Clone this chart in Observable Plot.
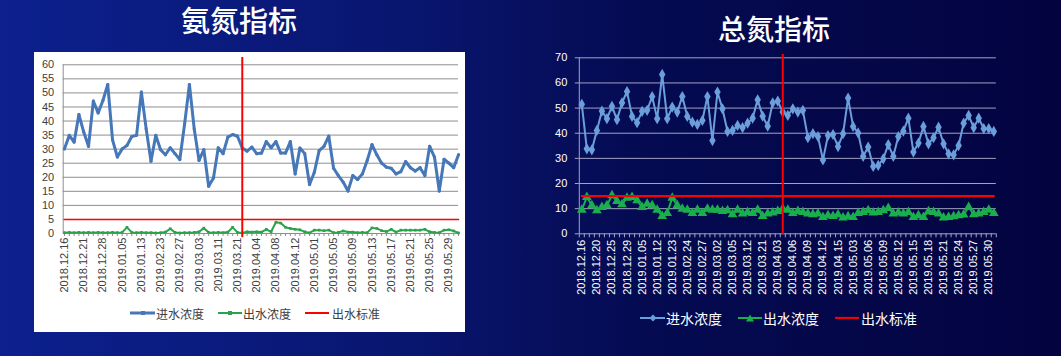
<!DOCTYPE html>
<html>
<head>
<meta charset="utf-8">
<script src="https://cdn.jsdelivr.net/npm/d3@7"></script>
<script src="https://cdn.jsdelivr.net/npm/@observablehq/plot@0.6"></script>
<style>
html, body { margin: 0; padding: 0; }
body {
  width: 1061px; height: 356px; overflow: hidden; position: relative;
  background: linear-gradient(to right, #0c208e 0%, #091670 38%, #050b52 60%, #030340 100%);
  font-family: "Liberation Sans", Arial, sans-serif;
}
.title { position: absolute; color: #fff; font-family: "Noto Sans CJK SC", sans-serif; font-weight: 500;
  white-space: nowrap; width: 200px; margin-left: -100px; text-align: center; line-height: 1.2; }
#panel { position: absolute; left: 34px; top: 52px; width: 431px; height: 280px; background: #fff; }
#nh { position: absolute; left: 0; top: 0; }
#tn { position: absolute; left: 540px; top: 45px; }
.leg { position: absolute; display: flex; align-items: center; white-space: nowrap;
  font-family: "Noto Sans CJK SC", sans-serif; }
.sw { position: relative; height: 0; }
.sw .ln { position: absolute; left: 0; right: 0; top: 0; transform: translateY(-50%); }
.sw .mk { position: absolute; left: 50%; top: 0; transform: translate(-50%, -50%); }
</style>
</head>
<body>
<div class="title" style="left:239px; top:2px; font-size:29px;">氨氮指标</div>
<div class="title" style="left:774px; top:12px; font-size:28px;">总氮指标</div>
<div id="panel"><div id="nh"></div></div>
<div id="tn"></div>
<div id="legends"></div>
<script>
// ---------- shared categories ----------
const dates = [
  "2018.12.16","2018.12.17","2018.12.18","2018.12.20","2018.12.21","2018.12.23","2018.12.25","2018.12.26",
  "2018.12.28","2018.12.29","2019.01.01","2019.01.03","2019.01.05","2019.01.08","2019.01.10","2019.01.12",
  "2019.01.13","2019.01.20","2019.01.23","2019.02.20","2019.02.23","2019.02.24","2019.02.25","2019.02.26",
  "2019.02.27","2019.02.28","2019.03.01","2019.03.02","2019.03.03","2019.03.04","2019.03.05","2019.03.08",
  "2019.03.11","2019.03.12","2019.03.15","2019.03.18","2019.03.21","2019.03.24","2019.03.28","2019.04.03",
  "2019.04.04","2019.04.05","2019.04.06","2019.04.07","2019.04.08","2019.04.09","2019.04.10","2019.04.11",
  "2019.04.12","2019.04.13","2019.04.14","2019.04.15",
  "2019.05.01","2019.05.02","2019.05.03","2019.05.04","2019.05.05","2019.05.06","2019.05.07","2019.05.08",
  "2019.05.09","2019.05.10","2019.05.11","2019.05.12","2019.05.13","2019.05.14","2019.05.15","2019.05.16",
  "2019.05.17","2019.05.18","2019.05.19","2019.05.20","2019.05.21","2019.05.22","2019.05.23","2019.05.24",
  "2019.05.25","2019.05.26","2019.05.27","2019.05.28","2019.05.29","2019.05.30","2019.05.31"
];

// ---------- 氨氮 (ammonia nitrogen) ----------
const nhInflow = [30.1,34.9,32.5,42.3,36.1,31.0,47.1,42.9,47.3,53.0,
  33.3,27.2,30.1,31.3,34.5,34.9,50.3,37.2,25.7,34.9,
  29.8,28.0,30.5,28.4,26.3,39.0,53.0,37.2,26.0,29.8,
  16.8,19.7,30.5,28.4,34.3,35.2,34.6,30.4,29.3,30.7,
  28.4,28.6,32.7,30.5,32.7,28.6,28.6,32.7,21.2,30.4,
  28.4,17.4,21.8,29.5,31.0,34.6,23.2,20.6,18.3,15.1,
  20.6,19.2,21.2,26.0,31.6,28.0,25.0,23.6,23.2,21.2,
  22.0,25.6,23.4,22.2,23.4,20.6,31.0,27.2,15.1,26.4,
  25.0,23.4,28.0];
const nhOutflow = [0.3,0.4,0.3,0.4,0.3,0.4,0.3,0.4,0.3,0.3,0.4,0.3,0.4,
  2.2,
  0.4,0.3,0.4,0.3,0.3,0.2,0.3,0.5,
  1.7,
  0.4,0.2,0.3,0.3,0.4,0.6,
  1.9,
  0.4,0.3,0.4,0.3,0.5,
  2.2,
  0.4,0.2,0.6,0.5,0.6,0.5,1.5,0.6,4.0,3.7,
  2.2,1.8,1.5,1.3,0.6,0.2,1.2,1.2,1.0,1.2,
  0.3,0.4,0.9,0.5,0.5,0.3,0.4,0.3,2.0,1.8,
  1.0,0.7,1.5,0.5,1.2,1.2,1.2,1.2,1.2,1.5,
  0.6,0.4,0.3,1.2,1.3,0.9,0.2];
const nhStandard = 5;
const nhDividerDate = "2019.03.24";
const nhYTicks = [0,5,10,15,20,25,30,35,40,45,50,55,60];
const nhXTickLabels = ["2018.12.16","2018.12.21","2018.12.28","2019.01.05","2019.01.13","2019.02.23",
  "2019.02.27","2019.03.03","2019.03.11","2019.03.21","2019.04.04","2019.04.08","2019.04.12","2019.05.01",
  "2019.05.05","2019.05.09","2019.05.13","2019.05.17","2019.05.21","2019.05.25","2019.05.29"];

// ---------- 总氮 (total nitrogen) ----------
const tnInflow = [51.5,33.8,33.4,41.1,48.8,45.8,50.7,45.4,52.1,56.6,
  46.7,44.2,48.7,49.1,54.6,45.8,63.4,45.8,50.4,48.4,
  54.6,46.7,44.4,43.5,45.1,54.6,37.1,56.4,49.7,40.7,
  41.1,43.1,42.2,44.0,46.0,53.3,46.8,42.8,52.1,52.8,
  48.4,47.1,49.7,48.4,49.1,38.2,39.8,38.7,29.4,39.1,
  39.5,34.7,39.8,54.0,42.7,40.1,30.8,34.5,26.8,27.2,
  29.8,35.5,30.8,38.7,40.8,46.0,32.5,36.1,42.7,35.8,
  38.2,42.4,35.8,31.8,31.4,35.1,44.0,47.1,42.2,46.0,
  41.8,41.8,40.7];
const tnOutflow = [9.5,14.6,11.3,9.3,10.6,11.3,15.3,13.0,11.7,14.3,
  14.6,13.3,10.6,11.9,11.3,9.5,7.0,8.2,14.3,11.3,
  9.9,9.5,8.2,9.5,8.2,9.9,9.5,9.5,9.0,9.3,
  7.7,9.5,8.0,8.6,8.2,9.5,7.0,8.0,8.4,9.0,
  9.9,9.5,8.2,9.0,8.6,8.0,7.7,8.0,6.6,7.3,
  7.0,7.6,6.4,6.9,6.6,8.2,8.6,9.3,8.4,8.6,
  9.3,10.2,8.0,8.4,8.0,8.6,6.6,7.3,6.6,8.9,
  8.6,8.0,6.4,6.6,6.9,7.3,7.6,10.6,7.7,8.0,
  8.6,9.5,8.2];
const tnStandard = 15;
const tnDividerDate = "2019.04.04";
const tnYTicks = [0,10,20,30,40,50,60,70];
const tnXTickLabels = ["2018.12.16","2018.12.20","2018.12.25","2018.12.29","2019.01.05","2019.01.12",
  "2019.01.23","2019.02.24","2019.02.27","2019.03.02","2019.03.05","2019.03.12","2019.03.21","2019.04.03",
  "2019.04.06","2019.04.09","2019.04.12","2019.04.15","2019.05.03","2019.05.06","2019.05.09","2019.05.12",
  "2019.05.15","2019.05.18","2019.05.21","2019.05.24","2019.05.27","2019.05.30"];

const seriesNames = ["进水浓度", "出水浓度", "出水标准"];

// ---------- build ----------
const idx = d3.range(dates.length);
const pos = d => dates.indexOf(d);
const font = "'Liberation Sans', Arial, sans-serif";

// left chart
const nhXDomain = [-0.27, dates.length - 1];
const nhBlue = "#4677b8", nhGreen = "#2ca34a", red = "#ff0000";
const nhPlot = Plot.plot({
  width: 431, height: 256,
  marginLeft: 28.7, marginRight: 7, marginTop: 12.3, marginBottom: 75,
  style: {fontFamily: font, fontSize: "11px", color: "#404040", background: "transparent", overflow: "visible"},
  x: {domain: nhXDomain, axis: null},
  y: {domain: [0, 60], axis: null},
  marks: [
    Plot.gridY(nhYTicks, {stroke: "#8e8e8e", strokeOpacity: 1}),
    Plot.ruleX([nhXDomain[0]], {stroke: "#8e8e8e"}),
    Plot.axisY(nhYTicks, {tickSize: 0, tickPadding: 9, fill: "#404040"}),
    Plot.axisX(idx, {tickSize: 3, stroke: "#8e8e8e", fill: "none", tickFormat: () => ""}),
    Plot.axisX(nhXTickLabels.map(pos), {tickSize: 0, tickPadding: 4, tickRotate: -90,
      tickFormat: i => dates[i], fill: "#404040"}),
    Plot.line(idx, {x: i => i, y: i => nhOutflow[i], stroke: nhGreen, strokeWidth: 2}),
    Plot.dot(idx, {x: i => i, y: i => nhOutflow[i], symbol: "square", r: 1.5, fill: nhGreen}),
    Plot.line(idx, {x: i => i, y: i => nhInflow[i], stroke: nhBlue, strokeWidth: 3, strokeLinejoin: "round"}),
    Plot.dot(idx, {x: i => i, y: i => nhInflow[i], r: 1.6, fill: nhBlue}),
    Plot.line(idx, {x: i => i, y: () => nhStandard, stroke: red, strokeWidth: 1.6}),
    Plot.ruleX([pos(nhDividerDate)], {y1: -1.5, y2: 62.6, stroke: red, strokeWidth: 2})
  ]
});
document.getElementById("nh").append(nhPlot);

// right chart
const tnXDomain = [-0.5, dates.length - 0.5];
const tnBlue = "#6a9fdc", tnGreen = "#1aae4c", tnGrid = "#a3a3c4";
const tnPlot = Plot.plot({
  width: 470, height: 260,
  marginLeft: 38.8, marginRight: 14.2, marginTop: 12.3, marginBottom: 71.7,
  style: {fontFamily: font, fontSize: "11px", color: "#ffffff", background: "transparent", overflow: "visible"},
  x: {domain: tnXDomain, axis: null},
  y: {domain: [0, 70], axis: null},
  marks: [
    Plot.gridY(tnYTicks, {stroke: tnGrid, strokeOpacity: 1}),
    Plot.ruleX([tnXDomain[0]], {stroke: tnGrid}),
    Plot.axisY(tnYTicks, {tickSize: 4, tickPadding: 8, stroke: tnGrid, fill: "#ffffff"}),
    Plot.axisX(d3.range(tnXDomain[0], tnXDomain[1] + 0.01, 1), {tickSize: 4, stroke: tnGrid, fill: "none", tickFormat: () => ""}),
    Plot.axisX(tnXTickLabels.map(pos), {tickSize: 0, tickPadding: 6, tickRotate: -90,
      tickFormat: i => dates[i], fill: "#ffffff"}),
    Plot.line(idx, {x: i => i, y: i => tnOutflow[i], stroke: tnGreen, strokeWidth: 2}),
    Plot.dot(idx, {x: i => i, y: i => tnOutflow[i], symbol: "triangle", r: 3.6, fill: tnGreen}),
    Plot.line(idx, {x: i => i, y: i => tnInflow[i], stroke: tnBlue, strokeWidth: 2}),
    Plot.dot(idx, {x: i => i, y: i => tnInflow[i], symbol: "diamond", r: 3.4, fill: tnBlue}),
    Plot.line(idx, {x: i => i, y: () => tnStandard, stroke: red, strokeWidth: 2.2}),
    Plot.ruleX([pos(tnDividerDate)], {y1: -0.3, y2: 71.3, stroke: red, strokeWidth: 2})
  ]
});
document.getElementById("tn").append(tnPlot);

// legends (HTML)
function legendItem(x, y, w, color, lw, marker, label, fontSize, textColor, gap) {
  const d = document.createElement("div");
  d.className = "leg";
  d.style.left = x + "px"; d.style.top = (y - fontSize * 0.7) + "px";
  d.style.height = (fontSize * 1.4) + "px";
  d.style.fontSize = fontSize + "px"; d.style.color = textColor;
  const sw = document.createElement("div");
  sw.className = "sw"; sw.style.width = w + "px"; sw.style.marginRight = gap + "px";
  const ln = document.createElement("div");
  ln.className = "ln"; ln.style.height = lw + "px"; ln.style.background = color;
  sw.append(ln);
  if (marker) { const m = document.createElement("div"); m.className = "mk"; Object.assign(m.style, marker); sw.append(m); }
  d.append(sw);
  const t = document.createElement("span"); t.textContent = label; d.append(t);
  document.getElementById("legends").append(d);
}
// left legend
legendItem(130, 313, 25, nhBlue, 3, {width: "4px", height: "4px", background: nhBlue}, seriesNames[0], 12, "#404040", 1);
legendItem(218, 313, 24, nhGreen, 2, {width: "4px", height: "4px", background: nhGreen}, seriesNames[1], 12, "#404040", 1);
legendItem(305, 313, 24, red, 2, null, seriesNames[2], 12, "#404040", 3);
// right legend
legendItem(640, 318, 25, tnBlue, 2, {width: "5px", height: "5px", background: tnBlue, transform: "translate(-50%,-50%) rotate(45deg)"}, seriesNames[0], 14, "#ffffff", 1);
legendItem(738, 318, 24, tnGreen, 2, {width: "0", height: "0", borderLeft: "4px solid transparent", borderRight: "4px solid transparent", borderBottom: "7px solid " + tnGreen}, seriesNames[1], 14, "#ffffff", 1);
legendItem(835, 318, 24, red, 2.2, null, seriesNames[2], 14, "#ffffff", 2);
</script>
</body>
</html>
